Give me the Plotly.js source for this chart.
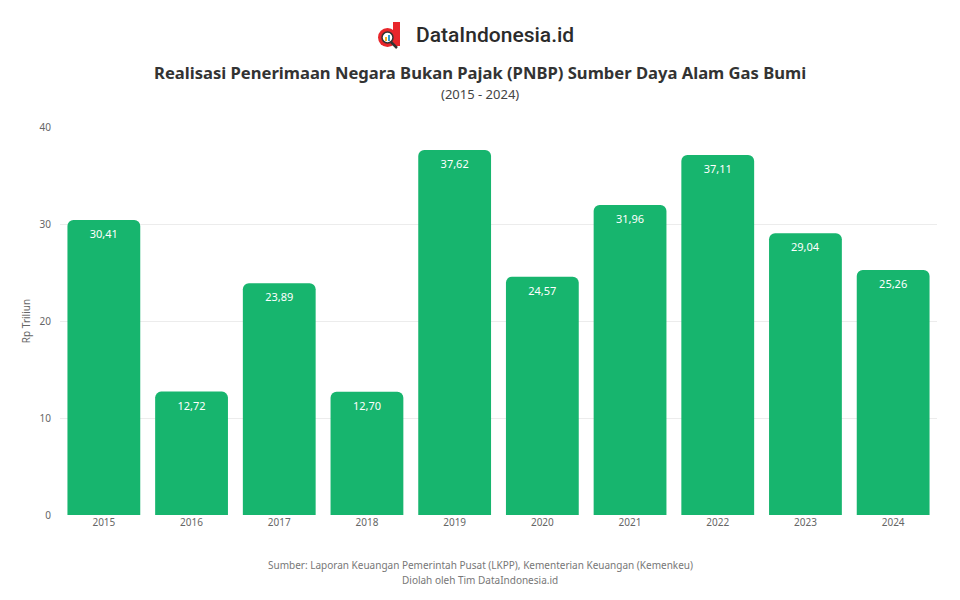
<!DOCTYPE html>
<html>
<head>
<meta charset="utf-8">
<script src="https://cdn.plot.ly/plotly-3.0.1.min.js"></script>
<style>html,body{margin:0;padding:0;background:#fff;}#chart{width:960px;height:600px;}</style>
</head>
<body>
<div id="chart"></div>
<script>
const years = ['2015','2016','2017','2018','2019','2020','2021','2022','2023','2024'];
const values = [30.41, 12.72, 23.89, 12.70, 37.62, 24.57, 31.96, 37.11, 29.04, 25.26];
const yTicks = [0, 10, 20, 30, 40];
const titleText = 'Realisasi Penerimaan Negara Bukan Pajak (PNBP) Sumber Daya Alam Gas Bumi';
const subtitleText = '(2015 - 2024)';
const yTitle = 'Rp Triliun';
const sourceLine1 = 'Sumber: Laporan Keuangan Pemerintah Pusat (LKPP), Kementerian Keuangan (Kemenkeu)';
const sourceLine2 = 'Diolah oleh Tim DataIndonesia.id';

const W = 960, H = 600;
const L = 60, R = 937, T = 127, B = 515;
const px = x => (x - L) / (R - L);
const py = y => (B - y) / (B - T);

const green = '#17b56e';
const font = 'Noto Sans, Open Sans, sans-serif';

const trace = {
  type: 'bar',
  x: years,
  y: values,
  marker: {color: green, cornerradius: 6},
  text: values,
  texttemplate: '%{y:.2f}',
  textposition: 'inside',
  insidetextanchor: 'end',
  textfont: {color: '#ffffff', size: 11, family: font},
  hoverinfo: 'x+y'
};

const layout = {
  width: W, height: H,
  margin: {l: L, r: W - R, t: T, b: H - B, pad: 0},
  paper_bgcolor: '#ffffff',
  plot_bgcolor: '#ffffff',
  separators: ',.',
  bargap: 0.17,
  showlegend: false,
  font: {family: font, color: '#444'},
  xaxis: {
    type: 'category',
    tickfont: {size: 10, color: '#666'},
    showgrid: false, zeroline: false, showline: false, ticks: '',
    ticklen: 0
  },
  yaxis: {
    range: [0, 40],
    tickvals: yTicks,
    tickfont: {size: 10, color: '#666'},
    gridcolor: '#ececec',
    zeroline: false, showline: false,
    ticks: '',
    ticklabelstandoff: 8,
    title: {text: yTitle, font: {size: 10, color: '#666'}, standoff: 7}
  },
  annotations: [
    {text: '<b>' + titleText + '</b>', xref: 'paper', yref: 'paper', x: px(480), y: py(72),
     showarrow: false, font: {size: 16.6, color: '#333', family: font}, xanchor: 'center', yanchor: 'middle'},
    {text: subtitleText, xref: 'paper', yref: 'paper', x: px(480), y: py(94),
     showarrow: false, font: {size: 13, color: '#444', family: font}, xanchor: 'center', yanchor: 'middle'},
    {text: 'DataIndonesia.id', xref: 'paper', yref: 'paper', x: px(414), y: py(35),
     showarrow: false, font: {size: 21, color: '#2b2b2b', family: 'Roboto, sans-serif', weight: 500}, xanchor: 'left', yanchor: 'middle'},
    {text: sourceLine1, xref: 'paper', yref: 'paper', x: px(480), y: py(565),
     showarrow: false, font: {size: 10, color: '#777', family: font}, xanchor: 'center', yanchor: 'middle'},
    {text: sourceLine2, xref: 'paper', yref: 'paper', x: px(480), y: py(580),
     showarrow: false, font: {size: 10, color: '#777', family: font}, xanchor: 'center', yanchor: 'middle'}
  ],
  shapes: [
    {type: 'circle', xref: 'paper', yref: 'paper', x0: px(378), x1: px(397), y0: py(28), y1: py(47),
     fillcolor: '#e8262b', line: {width: 0}},
    {type: 'rect', xref: 'paper', yref: 'paper', x0: px(393), x1: px(400), y0: py(22), y1: py(46),
     fillcolor: '#e8262b', line: {width: 0}},
    {type: 'circle', xref: 'paper', yref: 'paper', x0: px(382), x1: px(393), y0: py(32), y1: py(43),
     fillcolor: '#ffffff', line: {width: 1.5, color: '#333'}},
    {type: 'line', xref: 'paper', yref: 'paper', x0: px(391), x1: px(397), y0: py(42), y1: py(48),
     line: {width: 2.5, color: '#333'}},
    {type: 'rect', xref: 'paper', yref: 'paper', x0: px(385), x1: px(387), y0: py(37), y1: py(41),
     fillcolor: '#f3b21b', line: {width: 0}},
    {type: 'rect', xref: 'paper', yref: 'paper', x0: px(388), x1: px(390), y0: py(35), y1: py(41),
     fillcolor: '#2a9fd8', line: {width: 0}}
  ]
};

Plotly.newPlot('chart', [trace], layout, {displayModeBar: false, staticPlot: true});
</script>
</body>
</html>
